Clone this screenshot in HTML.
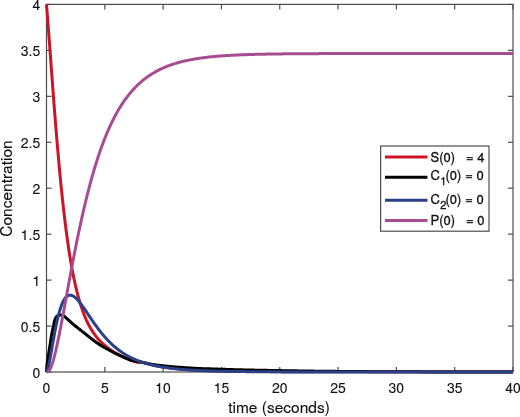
<!DOCTYPE html>
<html><head><meta charset="utf-8"><title>Concentration vs time</title>
<style>
html,body{margin:0;padding:0;background:#fff;}
body{width:520px;height:417px;overflow:hidden;}
svg{display:block;}
text{font-family:'TeX Gyre Heros', 'Liberation Sans', Arial, Helvetica, sans-serif;fill:#111;stroke:#111;stroke-width:0.12px;stroke-linejoin:round;}
text.lg{stroke-width:0.3px;}
</style></head>
<body>
<svg width="520" height="417" viewBox="0 0 520 417">
<rect width="520" height="417" fill="#fff"/>
<g stroke="#4d4d4d" stroke-width="1.2"><line x1="46.50" y1="372.0" x2="46.50" y2="367.0"/><line x1="46.50" y1="4.4" x2="46.50" y2="9.4"/><line x1="104.81" y1="372.0" x2="104.81" y2="367.0"/><line x1="104.81" y1="4.4" x2="104.81" y2="9.4"/><line x1="163.12" y1="372.0" x2="163.12" y2="367.0"/><line x1="163.12" y1="4.4" x2="163.12" y2="9.4"/><line x1="221.44" y1="372.0" x2="221.44" y2="367.0"/><line x1="221.44" y1="4.4" x2="221.44" y2="9.4"/><line x1="279.75" y1="372.0" x2="279.75" y2="367.0"/><line x1="279.75" y1="4.4" x2="279.75" y2="9.4"/><line x1="338.06" y1="372.0" x2="338.06" y2="367.0"/><line x1="338.06" y1="4.4" x2="338.06" y2="9.4"/><line x1="396.38" y1="372.0" x2="396.38" y2="367.0"/><line x1="396.38" y1="4.4" x2="396.38" y2="9.4"/><line x1="454.69" y1="372.0" x2="454.69" y2="367.0"/><line x1="454.69" y1="4.4" x2="454.69" y2="9.4"/><line x1="513.00" y1="372.0" x2="513.00" y2="367.0"/><line x1="513.00" y1="4.4" x2="513.00" y2="9.4"/><line x1="46.5" y1="372.00" x2="51.5" y2="372.00"/><line x1="513.0" y1="372.00" x2="508.0" y2="372.00"/><line x1="46.5" y1="326.06" x2="51.5" y2="326.06"/><line x1="513.0" y1="326.06" x2="508.0" y2="326.06"/><line x1="46.5" y1="280.11" x2="51.5" y2="280.11"/><line x1="513.0" y1="280.11" x2="508.0" y2="280.11"/><line x1="46.5" y1="234.16" x2="51.5" y2="234.16"/><line x1="513.0" y1="234.16" x2="508.0" y2="234.16"/><line x1="46.5" y1="188.22" x2="51.5" y2="188.22"/><line x1="513.0" y1="188.22" x2="508.0" y2="188.22"/><line x1="46.5" y1="142.28" x2="51.5" y2="142.28"/><line x1="513.0" y1="142.28" x2="508.0" y2="142.28"/><line x1="46.5" y1="96.33" x2="51.5" y2="96.33"/><line x1="513.0" y1="96.33" x2="508.0" y2="96.33"/><line x1="46.5" y1="50.38" x2="51.5" y2="50.38"/><line x1="513.0" y1="50.38" x2="508.0" y2="50.38"/><line x1="46.5" y1="4.44" x2="51.5" y2="4.44"/><line x1="513.0" y1="4.44" x2="508.0" y2="4.44"/></g>
<rect x="46.5" y="4.4" width="466.500" height="367.600" fill="none" stroke="#4d4d4d" stroke-width="1.2"/>
<path d="M46.50,4.44 L46.56,5.15 L46.62,5.87 L46.67,6.59 L46.73,7.31 L46.79,8.04 L46.85,8.76 L46.91,9.49 L46.97,10.22 L47.02,10.95 L47.08,11.69 L47.14,12.42 L47.20,13.16 L47.26,13.90 L47.32,14.65 L47.37,15.39 L47.43,16.14 L47.49,16.88 L47.55,17.63 L47.61,18.39 L47.67,19.14 L47.72,19.89 L47.78,20.65 L47.84,21.41 L47.90,22.17 L47.96,22.93 L48.02,23.69 L48.07,24.45 L48.13,25.22 L48.19,25.98 L48.25,26.75 L48.31,27.52 L48.37,28.29 L48.42,29.06 L48.48,29.83 L48.54,30.60 L48.60,31.38 L48.66,32.15 L48.72,32.93 L48.77,33.71 L48.83,34.49 L48.89,35.26 L48.95,36.04 L49.01,36.82 L49.07,37.61 L49.12,38.39 L49.18,39.17 L49.24,39.95 L49.30,40.74 L49.36,41.52 L49.42,42.31 L49.47,43.09 L49.53,43.88 L49.59,44.67 L49.65,45.45 L49.71,46.24 L49.77,47.03 L49.82,47.82 L49.88,48.60 L49.94,49.39 L50.00,50.18 L50.06,50.97 L50.12,51.76 L50.17,52.55 L50.23,53.34 L50.29,54.13 L50.35,54.92 L50.41,55.71 L50.47,56.51 L50.52,57.30 L50.58,58.09 L50.64,58.88 L50.70,59.67 L50.76,60.46 L50.82,61.25 L50.87,62.04 L50.93,62.83 L50.99,63.62 L51.05,64.41 L51.11,65.20 L51.16,65.99 L51.22,66.78 L51.28,67.57 L51.34,68.36 L51.40,69.15 L51.46,69.94 L51.51,70.72 L51.57,71.51 L51.63,72.30 L51.69,73.09 L51.75,73.87 L51.81,74.66 L51.86,75.44 L51.92,76.23 L51.98,77.01 L52.04,77.80 L52.10,78.58 L52.16,79.37 L52.21,80.15 L52.27,80.93 L52.33,81.71 L52.39,82.49 L52.45,83.27 L52.51,84.05 L52.56,84.83 L52.62,85.61 L52.68,86.39 L52.74,87.16 L52.80,87.94 L52.86,88.72 L52.91,89.49 L52.97,90.26 L53.03,91.04 L53.09,91.81 L53.15,92.58 L53.21,93.35 L53.26,94.12 L53.32,94.89 L53.38,95.66 L53.44,96.42 L53.50,97.19 L53.56,97.96 L53.61,98.72 L53.67,99.48 L53.73,100.25 L53.79,101.01 L53.85,101.77 L53.91,102.53 L53.96,103.29 L54.02,104.04 L54.08,104.80 L54.14,105.55 L54.20,106.31 L54.26,107.06 L54.31,107.81 L54.37,108.57 L54.43,109.32 L54.49,110.06 L54.55,110.81 L54.61,111.56 L54.66,112.30 L54.72,113.05 L54.78,113.79 L54.84,114.53 L54.90,115.27 L54.96,116.01 L55.01,116.75 L55.07,117.49 L55.13,118.23 L55.19,118.96 L55.25,119.69 L55.31,120.43 L55.36,121.16 L55.42,121.89 L55.48,122.61 L55.54,123.34 L55.60,124.07 L55.66,124.79 L55.71,125.52 L55.77,126.24 L55.83,126.96 L55.89,127.68 L55.95,128.40 L56.00,129.11 L56.06,129.83 L56.12,130.54 L56.18,131.25 L56.24,131.97 L56.30,132.67 L56.35,133.38 L56.41,134.09 L56.47,134.80 L56.53,135.50 L56.59,136.20 L56.65,136.90 L56.70,137.60 L56.76,138.30 L56.82,139.00 L56.88,139.70 L56.94,140.39 L57.00,141.08 L57.05,141.77 L57.11,142.46 L57.17,143.15 L57.23,143.84 L57.29,144.52 L57.35,145.21 L57.40,145.89 L57.46,146.57 L57.52,147.25 L57.58,147.93 L57.64,148.61 L57.70,149.28 L57.75,149.96 L57.81,150.63 L57.87,151.30 L57.93,151.97 L57.99,152.63 L58.05,153.30 L58.10,153.96 L58.16,154.63 L58.28,155.95 L58.40,157.26 L58.51,158.57 L58.63,159.87 L58.75,161.17 L58.86,162.46 L58.98,163.75 L59.10,165.02 L59.21,166.29 L59.33,167.56 L59.45,168.82 L59.56,170.07 L59.68,171.31 L59.80,172.55 L59.91,173.79 L60.03,175.01 L60.15,176.23 L60.26,177.45 L60.38,178.66 L60.49,179.86 L60.61,181.05 L60.73,182.24 L60.84,183.42 L60.96,184.60 L61.08,185.76 L61.19,186.93 L61.31,188.08 L61.43,189.23 L61.54,190.37 L61.66,191.51 L61.78,192.64 L61.89,193.76 L62.01,194.88 L62.13,195.99 L62.24,197.10 L62.36,198.20 L62.48,199.29 L62.59,200.37 L62.71,201.45 L62.83,202.52 L62.94,203.59 L63.06,204.65 L63.18,205.70 L63.29,206.75 L63.41,207.79 L63.53,208.83 L63.64,209.86 L63.76,210.88 L63.88,211.89 L63.99,212.90 L64.11,213.91 L64.23,214.90 L64.34,215.90 L64.46,216.88 L64.58,217.86 L64.69,218.83 L64.81,219.80 L64.93,220.76 L65.04,221.71 L65.16,222.66 L65.28,223.60 L65.39,224.54 L65.51,225.47 L65.63,226.40 L65.74,227.31 L65.86,228.23 L65.98,229.13 L66.09,230.03 L66.21,230.93 L66.33,231.82 L66.44,232.70 L66.56,233.58 L66.68,234.45 L66.79,235.32 L66.91,236.18 L67.03,237.03 L67.14,237.88 L67.26,238.72 L67.38,239.56 L67.49,240.39 L67.61,241.22 L67.73,242.04 L67.84,242.86 L67.96,243.67 L68.08,244.47 L68.19,245.27 L68.31,246.06 L68.43,246.85 L68.54,247.63 L68.66,248.41 L68.78,249.18 L68.89,249.95 L69.01,250.71 L69.13,251.47 L69.24,252.22 L69.36,252.96 L69.48,253.70 L69.59,254.44 L69.71,255.17 L69.83,255.90 L69.94,256.62 L70.06,257.33 L70.17,258.04 L70.29,258.75 L70.41,259.45 L70.52,260.14 L70.64,260.84 L70.76,261.52 L70.87,262.20 L70.99,262.88 L71.11,263.55 L71.22,264.22 L71.34,264.88 L71.46,265.54 L71.57,266.19 L71.69,266.84 L71.81,267.48 L71.92,268.12 L72.04,268.75 L72.16,269.38 L72.27,270.01 L72.39,270.63 L72.51,271.24 L72.62,271.86 L72.74,272.46 L72.86,273.07 L72.97,273.67 L73.09,274.26 L73.21,274.85 L73.32,275.44 L73.44,276.02 L73.56,276.59 L73.67,277.17 L73.79,277.74 L73.91,278.30 L74.02,278.86 L74.14,279.42 L74.26,279.97 L74.37,280.52 L74.49,281.07 L74.61,281.61 L74.72,282.14 L74.84,282.68 L74.96,283.21 L75.07,283.73 L75.19,284.25 L75.31,284.77 L75.42,285.28 L75.54,285.79 L75.66,286.30 L75.77,286.80 L75.89,287.30 L76.01,287.80 L76.12,288.29 L76.24,288.78 L76.47,289.74 L76.71,290.69 L76.94,291.63 L77.17,292.56 L77.41,293.47 L77.64,294.36 L77.87,295.25 L78.11,296.12 L78.34,296.97 L78.57,297.82 L78.81,298.65 L79.04,299.47 L79.27,300.28 L79.50,301.08 L79.74,301.86 L79.97,302.64 L80.20,303.40 L80.44,304.15 L80.67,304.89 L80.90,305.62 L81.14,306.34 L81.37,307.05 L81.60,307.75 L81.84,308.44 L82.07,309.11 L82.30,309.78 L82.54,310.44 L82.77,311.09 L83.00,311.73 L83.24,312.36 L83.47,312.98 L83.70,313.59 L83.94,314.19 L84.17,314.79 L84.40,315.38 L84.64,315.95 L84.87,316.52 L85.10,317.08 L85.34,317.64 L85.57,318.18 L85.80,318.72 L86.04,319.25 L86.27,319.77 L86.50,320.29 L86.74,320.80 L86.97,321.30 L87.20,321.79 L87.44,322.28 L87.67,322.76 L87.90,323.23 L88.14,323.70 L88.37,324.16 L88.60,324.62 L88.83,325.07 L89.18,325.73 L89.53,326.37 L89.88,327.01 L90.23,327.63 L90.58,328.24 L90.93,328.84 L91.28,329.42 L91.63,330.00 L91.98,330.56 L92.33,331.11 L92.68,331.65 L93.03,332.18 L93.38,332.70 L93.73,333.22 L94.08,333.72 L94.43,334.21 L94.78,334.69 L95.13,335.17 L95.48,335.63 L95.83,336.09 L96.18,336.54 L96.53,336.98 L96.88,337.41 L97.23,337.83 L97.58,338.25 L97.93,338.66 L98.28,339.07 L98.63,339.46 L98.98,339.85 L99.33,340.24 L99.68,340.61 L100.03,340.98 L100.38,341.35 L100.73,341.71 L101.20,342.18 L101.66,342.64 L102.13,343.09 L102.60,343.53 L103.06,343.96 L103.53,344.38 L104.00,344.80 L104.46,345.20 L104.93,345.60 L105.40,345.99 L105.86,346.38 L106.33,346.75 L106.80,347.12 L107.26,347.49 L107.73,347.84 L108.19,348.19 L108.66,348.54 L109.13,348.88 L109.59,349.21 L110.06,349.53 L110.53,349.85 L110.99,350.17 L111.46,350.48 L111.93,350.79 L112.39,351.09 L112.86,351.38 L113.33,351.67 L113.79,351.96 L114.26,352.24 L114.73,352.52 L115.19,352.79 L115.66,353.06 L116.13,353.33 L116.59,353.59 L117.06,353.85 L117.52,354.10 L117.99,354.35 L118.46,354.60 L118.92,354.84 L119.39,355.08 L119.86,355.32 L120.32,355.55 L120.79,355.79 L121.26,356.01 L121.72,356.24 L122.19,356.46 L122.66,356.68 L123.12,356.89 L123.59,357.10 L124.06,357.31 L124.52,357.52 L124.99,357.72 L125.46,357.92 L125.92,358.12 L126.39,358.32 L126.85,358.51 L127.32,358.70 L127.79,358.89 L128.25,359.08 L128.72,359.26 L129.19,359.44 L129.77,359.67 L130.35,359.89 L130.94,360.11 L131.52,360.32 L132.10,360.53 L132.69,360.73 L133.27,360.94 L133.85,361.14 L134.44,361.33 L135.02,361.53 L135.60,361.72 L136.18,361.91 L136.77,362.09 L137.35,362.27 L137.93,362.45 L138.52,362.01 L139.10,362.06 L139.68,362.11 L140.27,362.17 L140.85,362.23 L141.43,362.29 L142.02,362.35 L142.60,362.42 L143.18,362.48 L143.77,362.55 L144.35,362.69 L144.93,362.87 L145.51,363.04 L146.10,363.21 L146.68,363.38 L147.26,363.55 L147.85,363.71 L148.43,363.87 L149.01,364.02 L149.60,364.18 L150.18,364.32 L150.76,364.47 L151.35,364.61 L151.93,364.75 L152.51,364.89 L153.10,365.03 L153.68,365.16 L154.26,365.29 L154.84,365.41 L155.43,365.54 L156.01,365.66 L156.59,365.78 L157.18,365.89 L157.76,366.01 L158.34,366.12 L158.93,366.23 L159.51,366.34 L160.09,366.44 L160.68,366.54 L161.26,366.64 L161.84,366.74 L162.43,366.84 L163.01,366.94 L163.59,367.03 L164.17,367.12 L164.76,367.21 L165.34,367.30 L165.92,367.38 L166.51,367.47 L167.09,367.55 L167.67,367.63 L168.26,367.71 L168.84,367.79 L169.42,367.86 L170.01,367.94 L170.59,368.01 L171.17,368.08 L171.76,368.15 L172.34,368.22 L172.92,368.29 L173.50,368.35 L174.09,368.42 L174.67,368.48 L175.25,368.54 L175.84,368.61 L176.42,368.67 L177.00,368.72 L177.59,368.78 L178.17,368.84 L178.75,368.89 L179.34,368.95 L179.92,369.00 L180.50,369.05 L181.09,369.10 L181.67,369.15 L182.25,369.20 L182.83,369.25 L183.42,369.30 L184.00,369.34 L184.58,369.39 L185.17,369.43 L185.75,369.48 L186.33,369.52 L187.62,369.61 L188.78,369.69 L189.95,369.77 L191.12,369.84 L192.28,369.91 L193.45,369.98 L194.61,370.05 L195.78,370.11 L196.95,370.17 L198.11,370.23 L199.28,370.29 L200.44,370.34 L201.61,370.39 L202.78,370.44 L203.94,370.49 L205.11,370.54 L206.28,370.58 L207.44,370.63 L208.61,370.67 L209.78,370.71 L210.94,370.75 L212.11,370.78 L213.27,370.82 L214.44,370.85 L215.61,370.89 L216.77,370.92 L217.94,370.95 L219.10,370.98 L220.27,371.01 L221.44,371.04 L222.60,371.06 L223.77,371.09 L224.94,371.12 L226.10,371.14 L227.27,371.16 L228.44,371.18 L229.60,371.21 L230.77,371.23 L231.93,371.25 L233.10,371.27 L234.27,371.28 L235.43,371.30 L236.60,371.32 L237.76,371.34 L238.93,371.35 L240.10,371.37 L241.26,371.38 L242.43,371.40 L243.60,371.41 L244.76,371.42 L245.93,371.44 L247.09,371.45 L248.26,371.46 L249.43,371.47 L250.59,371.49 L251.76,371.50 L252.93,371.51 L254.09,371.52 L255.26,371.53 L256.42,371.54 L257.59,371.54 L258.76,371.55 L259.92,371.56 L261.09,371.57 L262.26,371.58 L263.42,371.59 L264.59,371.59 L265.75,371.60 L266.92,371.61 L268.09,371.61 L269.25,371.62 L270.42,371.63 L271.59,371.63 L272.75,371.64 L273.92,371.64 L275.09,371.65 L276.25,371.65 L277.42,371.66 L278.58,371.66 L279.75,371.67 L280.92,371.67 L282.08,371.68 L283.25,371.68 L284.41,371.69 L285.58,371.69 L286.75,371.69 L287.91,371.70 L289.08,371.70 L290.25,371.70 L291.41,371.71 L292.58,371.71 L293.75,371.71 L294.91,371.72 L296.08,371.72 L297.24,371.72 L298.41,371.72 L299.58,371.73 L300.74,371.73 L301.91,371.73 L303.07,371.73 L304.24,371.74 L305.41,371.74 L306.57,371.74 L307.74,371.74 L308.91,371.74 L310.07,371.75 L311.24,371.75 L312.40,371.75 L313.57,371.75 L314.74,371.75 L315.90,371.76 L317.07,371.76 L318.24,371.76 L319.40,371.76 L320.57,371.76 L321.74,371.76 L322.90,371.76 L324.07,371.76 L325.23,371.77 L326.40,371.77 L327.57,371.77 L328.73,371.77 L329.90,371.77 L331.06,371.77 L332.23,371.77 L333.40,371.77 L334.56,371.77 L335.73,371.78 L336.90,371.78 L338.06,371.78 L339.23,371.78 L340.40,371.78 L341.56,371.78 L342.73,371.78 L343.89,371.78 L345.06,371.78 L346.23,371.78 L347.39,371.78 L348.56,371.78 L349.72,371.78 L350.89,371.78 L352.06,371.78 L353.22,371.79 L354.39,371.79 L355.56,371.79 L356.72,371.79 L357.89,371.79 L359.06,371.79 L360.22,371.79 L361.39,371.79 L362.55,371.79 L363.72,371.79 L364.89,371.79 L366.05,371.79 L367.22,371.79 L368.38,371.79 L369.55,371.79 L370.72,371.79 L371.88,371.79 L373.05,371.79 L374.22,371.79 L375.38,371.79 L376.55,371.79 L377.72,371.79 L378.88,371.79 L380.05,371.79 L381.21,371.79 L382.38,371.79 L383.55,371.79 L384.71,371.79 L385.88,371.79 L387.04,371.79 L388.21,371.79 L389.38,371.79 L390.54,371.80 L391.71,371.80 L392.88,371.80 L394.04,371.80 L395.21,371.80 L396.38,371.80 L397.54,371.80 L398.71,371.80 L399.87,371.80 L401.04,371.80 L402.21,371.80 L403.37,371.80 L404.54,371.80 L405.70,371.80 L406.87,371.80 L408.04,371.80 L409.20,371.80 L410.37,371.80 L411.54,371.80 L412.70,371.80 L413.87,371.80 L415.04,371.80 L416.20,371.80 L417.37,371.80 L418.53,371.80 L419.70,371.80 L420.87,371.80 L422.03,371.80 L423.20,371.80 L424.37,371.80 L425.53,371.80 L426.70,371.80 L427.86,371.80 L429.03,371.80 L430.20,371.80 L431.36,371.80 L432.53,371.80 L433.69,371.80 L434.86,371.80 L436.03,371.80 L437.19,371.80 L438.36,371.80 L439.53,371.80 L440.69,371.80 L441.86,371.80 L443.02,371.80 L444.19,371.80 L445.36,371.80 L446.52,371.80 L447.69,371.80 L448.86,371.80 L450.02,371.80 L451.19,371.80 L452.35,371.80 L453.52,371.80 L454.69,371.80 L455.85,371.80 L457.02,371.80 L458.19,371.80 L459.35,371.80 L460.52,371.80 L461.69,371.80 L462.85,371.80 L464.02,371.80 L465.18,371.80 L466.35,371.80 L467.52,371.80 L468.68,371.80 L469.85,371.80 L471.02,371.80 L472.18,371.80 L473.35,371.80 L474.51,371.80 L475.68,371.80 L476.85,371.80 L478.01,371.80 L479.18,371.80 L480.35,371.80 L481.51,371.80 L482.68,371.80 L483.84,371.80 L485.01,371.80 L486.18,371.80 L487.34,371.80 L488.51,371.80 L489.68,371.80 L490.84,371.80 L492.01,371.80 L493.17,371.80 L494.34,371.80 L495.51,371.80 L496.67,371.80 L497.84,371.80 L499.00,371.80 L500.17,371.80 L501.34,371.80 L502.50,371.80 L503.67,371.80 L504.84,371.80 L506.00,371.80 L507.17,371.80 L508.33,371.80 L509.50,371.80 L510.67,371.80 L511.83,371.80 L513.00,371.80" fill="none" stroke="#cc1426" stroke-width="3" stroke-linejoin="round" stroke-linecap="butt"/>
<path d="M46.50,372.00 L46.55,371.25 L46.60,370.50 L46.65,369.75 L46.69,369.01 L46.74,368.26 L46.80,367.51 L46.85,366.76 L46.91,366.01 L46.98,365.26 L47.06,364.52 L47.15,363.77 L47.25,363.03 L47.36,362.29 L47.47,361.55 L47.58,360.80 L47.69,360.06 L47.80,359.32 L47.90,358.58 L48.01,357.83 L48.13,357.09 L48.24,356.35 L48.35,355.61 L48.46,354.87 L48.57,354.12 L48.69,353.38 L48.80,352.64 L48.92,351.90 L49.03,351.16 L49.15,350.42 L49.27,349.68 L49.39,348.94 L49.51,348.19 L49.63,347.45 L49.75,346.71 L49.87,345.97 L49.99,345.23 L50.11,344.49 L50.23,343.75 L50.35,343.01 L50.46,342.27 L50.57,341.53 L50.68,340.78 L50.79,340.04 L50.90,339.30 L51.01,338.56 L51.12,337.82 L51.24,337.07 L51.36,336.33 L51.48,335.59 L51.60,334.85 L51.74,334.11 L51.87,333.38 L52.02,332.64 L52.17,331.91 L52.33,331.17 L52.49,330.44 L52.65,329.71 L52.81,328.97 L52.98,328.24 L53.14,327.51 L53.30,326.78 L53.46,326.04 L53.62,325.31 L53.76,324.57 L53.91,323.84 L54.05,323.10 L54.20,322.37 L54.37,321.63 L54.56,320.91 L54.77,320.19 L55.02,319.48 L55.30,318.79 L55.62,318.12 L55.99,317.47 L56.42,316.86 L56.91,316.32 L57.48,315.85 L58.11,315.49 L58.80,315.25 L59.52,315.10 L60.26,315.05 L61.01,315.07 L61.74,315.16 L62.46,315.33 L63.16,315.59 L63.82,315.93 L64.43,316.34 L65.02,316.80 L65.59,317.29 L66.14,317.79 L66.69,318.31 L67.24,318.82 L67.78,319.34 L68.32,319.86 L68.86,320.38 L69.41,320.90 L69.96,321.41 L70.51,321.91 L71.07,322.41 L71.64,322.90 L72.21,323.39 L72.78,323.87 L73.36,324.35 L73.94,324.83 L74.52,325.31 L75.10,325.78 L75.68,326.25 L76.26,326.73 L76.85,327.20 L77.44,327.66 L78.02,328.13 L78.62,328.59 L79.21,329.05 L79.80,329.51 L80.40,329.97 L80.99,330.43 L81.58,330.89 L82.17,331.35 L82.76,331.81 L83.35,332.28 L83.94,332.75 L84.52,333.22 L85.11,333.69 L85.69,334.16 L86.28,334.63 L86.86,335.10 L87.45,335.56 L88.04,336.03 L88.63,336.50 L89.22,336.96 L89.80,337.43 L90.39,337.89 L90.98,338.35 L91.57,338.82 L92.17,339.28 L92.76,339.73 L93.36,340.19 L93.96,340.64 L94.56,341.09 L95.16,341.54 L95.77,341.98 L96.37,342.42 L96.98,342.87 L97.59,343.30 L98.20,343.74 L98.82,344.16 L99.44,344.58 L100.07,344.99 L100.70,345.40 L101.34,345.79 L101.98,346.17 L102.63,346.55 L103.29,346.91 L103.95,347.27 L104.61,347.62 L105.28,347.97 L105.94,348.31 L106.61,348.66 L107.27,349.01 L107.93,349.37 L108.59,349.73 L109.25,350.09 L109.90,350.46 L110.56,350.82 L111.21,351.19 L111.87,351.55 L112.53,351.91 L113.19,352.27 L113.85,352.61 L114.52,352.96 L115.19,353.30 L115.86,353.63 L116.53,353.96 L117.21,354.29 L117.89,354.61 L118.57,354.93 L119.25,355.25 L119.93,355.56 L120.61,355.87 L121.29,356.18 L121.98,356.49 L122.66,356.80 L123.35,357.11 L124.03,357.41 L124.71,357.72 L125.40,358.03 L126.09,358.33 L126.77,358.63 L127.47,358.92 L128.16,359.21 L128.86,359.48 L129.56,359.74 L130.27,359.99 L130.98,360.22 L131.70,360.43 L132.43,360.62 L133.16,360.79 L133.89,360.94 L134.63,361.07 L135.37,361.19 L136.11,361.30 L136.86,361.41 L137.60,361.51 L138.34,361.63 L139.08,361.75 L139.82,361.88 L140.56,362.02 L141.29,362.17 L142.03,362.32 L142.76,362.48 L143.49,362.65 L144.22,362.81 L144.96,362.97 L145.69,363.14 L146.42,363.30 L147.16,363.45 L147.89,363.60 L148.63,363.74 L149.37,363.88 L150.10,364.01 L150.84,364.14 L151.58,364.26 L152.32,364.38 L153.07,364.49 L153.81,364.61 L154.55,364.72 L155.29,364.82 L156.04,364.93 L156.78,365.03 L157.52,365.13 L158.27,365.22 L159.01,365.32 L159.76,365.41 L160.50,365.50 L161.25,365.58 L161.99,365.67 L162.74,365.75 L163.48,365.84 L164.23,365.92 L164.98,366.00 L165.72,366.07 L166.47,366.15 L167.22,366.22 L167.96,366.29 L168.71,366.36 L169.46,366.43 L170.20,366.50 L170.95,366.57 L171.70,366.63 L172.45,366.70 L173.19,366.76 L173.94,366.83 L174.69,366.89 L175.44,366.95 L176.18,367.01 L176.93,367.07 L177.68,367.13 L178.43,367.19 L179.18,367.24 L179.93,367.30 L180.67,367.36 L181.42,367.41 L182.17,367.47 L182.92,367.52 L183.67,367.57 L184.42,367.63 L185.16,367.68 L185.91,367.73 L186.66,367.78 L187.41,367.83 L188.16,367.88 L188.91,367.93 L189.66,367.98 L190.40,368.03 L191.15,368.07 L191.90,368.12 L192.65,368.16 L193.40,368.21 L194.15,368.25 L194.90,368.29 L195.65,368.33 L196.40,368.37 L197.15,368.41 L197.90,368.45 L198.65,368.48 L199.40,368.51 L200.15,368.54 L200.89,368.57 L201.64,368.60 L202.39,368.63 L203.14,368.65 L203.89,368.68 L204.64,368.70 L205.39,368.72 L206.14,368.74 L206.89,368.77 L207.64,368.79 L208.39,368.81 L209.14,368.83 L209.89,368.85 L210.64,368.87 L211.39,368.89 L212.14,368.91 L212.89,368.93 L213.64,368.96 L214.39,368.98 L215.14,369.01 L215.89,369.03 L216.64,369.06 L217.39,369.08 L218.14,369.11 L218.89,369.13 L219.64,369.16 L220.39,369.18 L221.14,369.21 L221.89,369.24 L222.64,369.26 L223.39,369.29 L224.14,369.31 L224.89,369.34 L225.64,369.36 L226.39,369.39 L227.14,369.41 L227.89,369.44 L228.64,369.46 L229.39,369.49 L230.14,369.51 L230.89,369.53 L231.64,369.56 L232.39,369.58 L233.14,369.60 L233.89,369.63 L234.64,369.65 L235.39,369.67 L236.14,369.69 L236.89,369.72 L237.64,369.74 L238.39,369.76 L239.14,369.78 L239.89,369.80 L240.64,369.82 L241.39,369.83 L242.14,369.85 L242.89,369.87 L243.64,369.89 L244.39,369.91 L245.14,369.93 L245.89,369.94 L246.64,369.96 L247.39,369.98 L248.14,369.99 L248.89,370.01 L249.64,370.03 L250.39,370.04 L251.15,370.06 L251.90,370.07 L252.65,370.09 L253.40,370.10 L254.15,370.12 L254.90,370.13 L255.65,370.15 L256.40,370.16 L257.15,370.18 L257.90,370.19 L258.65,370.21 L259.40,370.22 L260.15,370.23 L260.90,370.25 L261.65,370.26 L262.40,370.27 L263.15,370.29 L263.90,370.30 L264.65,370.32 L265.40,370.33 L266.15,370.34 L266.90,370.36 L267.65,370.37 L268.40,370.38 L269.15,370.40 L269.90,370.41 L270.65,370.42 L271.40,370.44 L272.15,370.45 L272.90,370.46 L273.65,370.48 L274.40,370.49 L275.15,370.50 L275.90,370.52 L276.65,370.53 L277.40,370.54 L278.15,370.56 L278.90,370.57 L279.65,370.58 L280.40,370.60 L281.15,370.61 L281.90,370.62 L282.65,370.63 L283.40,370.65 L284.15,370.66 L284.90,370.67 L285.65,370.69 L286.40,370.70 L287.16,370.71 L287.91,370.73 L288.66,370.74 L289.41,370.75 L290.16,370.76 L290.91,370.78 L291.66,370.79 L292.41,370.80 L293.16,370.81 L293.91,370.83 L294.66,370.84 L295.41,370.85 L296.16,370.86 L296.91,370.87 L297.66,370.89 L298.41,370.90 L299.16,370.91 L299.91,370.92 L300.66,370.93 L301.41,370.94 L302.16,370.96 L302.91,370.97 L303.66,370.98 L304.41,370.99 L305.16,371.00 L305.91,371.01 L306.66,371.02 L307.41,371.03 L308.16,371.04 L308.91,371.06 L309.66,371.07 L310.41,371.08 L311.16,371.09 L311.91,371.10 L312.66,371.11 L313.41,371.12 L314.16,371.13 L314.91,371.14 L315.66,371.15 L316.41,371.16 L317.17,371.16 L317.92,371.17 L318.67,371.18 L319.42,371.19 L320.17,371.20 L320.92,371.21 L321.67,371.22 L322.42,371.23 L323.17,371.24 L323.92,371.25 L324.67,371.25 L325.42,371.26 L326.17,371.27 L326.92,371.28 L327.67,371.29 L328.42,371.29 L329.17,371.30 L329.92,371.31 L330.67,371.32 L331.42,371.33 L332.17,371.33 L332.92,371.34 L333.67,371.35 L334.42,371.36 L335.17,371.36 L335.92,371.37 L336.67,371.38 L337.42,371.38 L338.17,371.39 L338.92,371.40 L339.67,371.40 L340.42,371.41 L341.17,371.42 L341.92,371.43 L342.68,371.43 L343.43,371.44 L344.18,371.44 L344.93,371.45 L345.68,371.46 L346.43,371.46 L347.18,371.47 L347.93,371.48 L348.68,371.48 L349.43,371.49 L350.18,371.49 L350.93,371.50 L351.68,371.51 L352.43,371.51 L353.18,371.52 L353.93,371.52 L354.68,371.53 L355.43,371.54 L356.18,371.54 L356.93,371.55 L357.68,371.55 L358.43,371.56 L359.18,371.56 L359.93,371.57 L360.68,371.57 L361.43,371.58 L362.18,371.58 L362.93,371.59 L363.68,371.60 L364.43,371.60 L365.18,371.61 L365.93,371.61 L366.69,371.62 L367.44,371.62 L368.19,371.63 L368.94,371.63 L369.69,371.64 L370.44,371.64 L371.19,371.65 L371.94,371.65 L372.69,371.65 L373.44,371.66 L374.19,371.66 L374.94,371.67 L375.69,371.67 L376.44,371.68 L377.19,371.68 L377.94,371.69 L378.69,371.69 L379.44,371.70 L380.19,371.70 L380.94,371.71 L381.69,371.71 L382.44,371.71 L383.19,371.72 L383.94,371.72 L384.69,371.73 L385.44,371.73 L386.19,371.73 L386.94,371.74 L387.69,371.74 L388.44,371.75 L389.19,371.75 L389.95,371.75 L390.70,371.76 L391.45,371.76 L392.20,371.77 L392.95,371.77 L393.70,371.77 L394.45,371.78 L395.20,371.78 L395.95,371.78 L396.70,371.79 L397.45,371.79 L398.20,371.79 L398.95,371.80 L399.70,371.80 L400.45,371.80 L401.20,371.81 L401.95,371.81 L402.70,371.81 L403.45,371.81 L404.20,371.82 L404.95,371.82 L405.70,371.82 L406.45,371.83 L407.20,371.83 L407.95,371.83 L408.70,371.83 L409.45,371.84 L410.20,371.84 L410.95,371.84 L411.70,371.85 L412.46,371.85 L413.21,371.85 L413.96,371.85 L414.71,371.86 L415.46,371.86 L416.21,371.86 L416.96,371.86 L417.71,371.87 L418.46,371.87 L419.21,371.87 L419.96,371.87 L420.71,371.87 L421.46,371.88 L422.21,371.88 L422.96,371.88 L423.71,371.88 L424.46,371.89 L425.21,371.89 L425.96,371.89 L426.71,371.89 L427.46,371.89 L428.21,371.90 L428.96,371.90 L429.71,371.90 L430.46,371.90 L431.21,371.90 L431.96,371.91 L432.71,371.91 L433.46,371.91 L434.21,371.91 L434.97,371.91 L435.72,371.92 L436.47,371.92 L437.22,371.92 L437.97,371.92 L438.72,371.92 L439.47,371.93 L440.22,371.93 L440.97,371.93 L441.72,371.93 L442.47,371.93 L443.22,371.93 L443.97,371.94 L444.72,371.94 L445.47,371.94 L446.22,371.94 L446.97,371.94 L447.72,371.94 L448.47,371.95 L449.22,371.95 L449.97,371.95 L450.72,371.95 L451.47,371.95 L452.22,371.95 L452.97,371.96 L453.72,371.96 L454.47,371.96 L455.22,371.96 L455.97,371.96 L456.72,371.96 L457.48,371.96 L458.23,371.97 L458.98,371.97 L459.73,371.97 L460.48,371.97 L461.23,371.97 L461.98,371.97 L462.73,371.97 L463.48,371.97 L464.23,371.97 L464.98,371.97 L465.73,371.97 L466.48,371.98 L467.23,371.98 L467.98,371.98 L468.73,371.98 L469.48,371.98 L470.23,371.98 L470.98,371.98 L471.73,371.98 L472.48,371.98 L473.23,371.98 L473.98,371.98 L474.73,371.98 L475.48,371.98 L476.23,371.98 L476.98,371.98 L477.73,371.98 L478.48,371.98 L479.23,371.99 L479.99,371.99 L480.74,371.99 L481.49,371.99 L482.24,371.99 L482.99,371.99 L483.74,371.99 L484.49,371.99 L485.24,371.99 L485.99,371.99 L486.74,371.99 L487.49,371.99 L488.24,371.99 L488.99,371.99 L489.74,371.99 L490.49,371.99 L491.24,371.99 L491.99,371.99 L492.74,371.99 L493.49,371.99 L494.24,371.99 L494.99,371.99 L495.74,371.99 L496.49,371.99 L497.24,371.99 L497.99,371.99 L498.74,371.99 L499.49,371.99 L500.24,371.99 L500.99,371.99 L501.74,371.99 L502.50,371.99 L503.25,371.99 L504.00,371.99 L504.75,371.99 L505.50,372.00 L506.25,372.00 L507.00,372.00 L507.75,372.00 L508.50,372.00 L509.25,372.00 L510.00,372.00 L510.75,372.00 L511.50,372.00 L512.25,372.00 L513.00,372.00" fill="none" stroke="#000000" stroke-width="3" stroke-linejoin="round" stroke-linecap="butt"/>
<path d="M46.50,372.00 L46.79,371.53 L47.02,371.04 L47.23,370.54 L47.40,370.05 L47.58,369.53 L47.75,368.95 L47.90,368.45 L48.05,367.91 L48.19,367.36 L48.34,366.77 L48.48,366.17 L48.60,365.67 L48.72,365.16 L48.83,364.64 L48.95,364.11 L49.07,363.56 L49.18,363.01 L49.30,362.44 L49.42,361.87 L49.53,361.29 L49.65,360.69 L49.77,360.10 L49.88,359.49 L50.00,358.88 L50.12,358.26 L50.23,357.64 L50.35,357.01 L50.47,356.37 L50.58,355.73 L50.70,355.09 L50.82,354.44 L50.93,353.79 L51.05,353.14 L51.16,352.48 L51.25,351.99 L51.34,351.50 L51.43,351.00 L51.51,350.50 L51.60,350.01 L51.69,349.51 L51.78,349.01 L51.86,348.51 L51.95,348.01 L52.04,347.51 L52.13,347.01 L52.21,346.51 L52.30,346.01 L52.39,345.51 L52.48,345.01 L52.56,344.51 L52.65,344.01 L52.74,343.52 L52.83,343.02 L52.91,342.52 L53.00,342.03 L53.09,341.53 L53.18,341.04 L53.29,340.39 L53.41,339.73 L53.53,339.08 L53.64,338.43 L53.76,337.79 L53.88,337.14 L53.99,336.50 L54.11,335.87 L54.23,335.23 L54.34,334.60 L54.46,333.97 L54.58,333.35 L54.69,332.73 L54.81,332.12 L54.93,331.51 L55.04,330.90 L55.16,330.29 L55.28,329.70 L55.39,329.10 L55.51,328.51 L55.63,327.93 L55.74,327.35 L55.86,326.77 L55.98,326.20 L56.09,325.63 L56.21,325.07 L56.33,324.51 L56.44,323.96 L56.56,323.42 L56.68,322.88 L56.79,322.34 L56.91,321.81 L57.03,321.28 L57.14,320.76 L57.26,320.25 L57.38,319.74 L57.49,319.24 L57.61,318.74 L57.73,318.25 L57.84,317.76 L57.99,317.16 L58.13,316.57 L58.28,315.98 L58.51,315.07 L58.75,314.17 L58.98,313.30 L59.21,312.45 L59.45,311.63 L59.68,310.82 L59.91,310.04 L60.15,309.29 L60.38,308.55 L60.61,307.84 L60.84,307.15 L61.08,306.48 L61.31,305.83 L61.54,305.20 L61.78,304.60 L62.01,304.02 L62.24,303.46 L62.48,302.92 L62.71,302.40 L62.94,301.90 L63.18,301.42 L63.41,300.96 L63.76,300.31 L64.11,299.70 L64.46,299.13 L64.81,298.61 L65.16,298.13 L65.51,297.69 L65.86,297.28 L66.21,296.92 L66.68,296.49 L67.14,296.12 L67.61,295.81 L68.08,295.56 L68.54,295.37 L69.13,295.21 L69.71,295.13 L70.29,295.12 L70.87,295.19 L71.46,295.32 L72.04,295.52 L72.51,295.72 L72.97,295.95 L73.44,296.22 L73.91,296.53 L74.37,296.87 L74.84,297.23 L75.31,297.62 L75.77,298.04 L76.24,298.49 L76.71,298.95 L77.06,299.32 L77.41,299.69 L77.76,300.08 L78.11,300.48 L78.46,300.88 L78.81,301.30 L79.16,301.73 L79.50,302.16 L79.85,302.60 L80.20,303.05 L80.55,303.51 L80.90,303.97 L81.25,304.44 L81.60,304.91 L81.95,305.39 L82.30,305.88 L82.65,306.37 L83.00,306.86 L83.35,307.36 L83.70,307.86 L84.05,308.37 L84.40,308.87 L84.75,309.38 L85.10,309.90 L85.45,310.41 L85.80,310.93 L86.15,311.44 L86.50,311.96 L86.85,312.48 L87.20,313.00 L87.55,313.52 L87.90,314.05 L88.25,314.57 L88.60,315.09 L88.95,315.61 L89.30,316.13 L89.65,316.65 L90.00,317.17 L90.35,317.69 L90.70,318.21 L91.05,318.72 L91.40,319.24 L91.75,319.75 L92.10,320.26 L92.45,320.77 L92.80,321.28 L93.15,321.78 L93.50,322.29 L93.85,322.79 L94.20,323.28 L94.55,323.78 L94.90,324.27 L95.25,324.77 L95.60,325.25 L95.95,325.74 L96.30,326.22 L96.65,326.70 L97.00,327.18 L97.35,327.65 L97.70,328.12 L98.05,328.59 L98.40,329.05 L98.75,329.51 L99.10,329.97 L99.45,330.43 L99.80,330.88 L100.15,331.32 L100.50,331.77 L100.85,332.21 L101.20,332.65 L101.55,333.08 L101.90,333.51 L102.25,333.94 L102.60,334.36 L102.95,334.78 L103.30,335.19 L103.65,335.61 L104.00,336.02 L104.35,336.42 L104.70,336.82 L105.05,337.22 L105.40,337.61 L105.75,338.00 L106.10,338.39 L106.45,338.77 L106.80,339.15 L107.15,339.53 L107.49,339.90 L107.84,340.27 L108.19,340.64 L108.54,341.00 L108.89,341.35 L109.36,341.83 L109.83,342.29 L110.29,342.75 L110.76,343.20 L111.23,343.65 L111.69,344.09 L112.16,344.53 L112.63,344.95 L113.09,345.38 L113.56,345.79 L114.03,346.20 L114.49,346.61 L114.96,347.01 L115.43,347.40 L115.89,347.79 L116.36,348.17 L116.82,348.54 L117.29,348.91 L117.76,349.28 L118.22,349.64 L118.69,349.99 L119.16,350.34 L119.62,350.68 L120.09,351.02 L120.56,351.35 L121.02,351.68 L121.49,352.00 L121.96,352.32 L122.42,352.64 L122.89,352.94 L123.36,353.25 L123.82,353.55 L124.29,353.84 L124.76,354.13 L125.22,354.41 L125.69,354.69 L126.15,354.97 L126.62,355.24 L127.09,355.51 L127.55,355.77 L128.02,356.03 L128.49,356.29 L128.95,356.54 L129.42,356.78 L129.89,357.03 L130.35,357.27 L130.82,357.50 L131.29,357.73 L131.75,357.96 L132.22,358.18 L132.69,358.40 L133.15,358.62 L133.62,358.83 L134.09,359.04 L134.55,359.25 L135.02,359.45 L135.48,359.65 L135.95,359.85 L136.42,360.04 L136.88,360.23 L137.35,360.42 L137.82,360.60 L138.28,360.79 L138.87,361.01 L139.45,361.23 L140.03,361.44 L140.62,361.65 L141.20,361.85 L141.78,362.05 L142.37,362.25 L142.95,362.44 L143.53,362.63 L144.12,362.81 L144.70,363.00 L145.28,363.17 L145.86,363.35 L146.45,363.52 L147.03,363.68 L147.61,363.85 L148.20,364.01 L148.78,364.16 L149.36,364.32 L149.95,364.47 L150.53,364.61 L151.11,364.76 L151.70,364.90 L152.28,365.04 L152.86,365.17 L153.45,365.30 L154.03,365.43 L154.61,365.56 L155.19,365.69 L155.78,365.81 L156.36,365.93 L156.94,366.05 L157.53,366.16 L158.11,366.27 L158.69,366.38 L159.28,366.49 L159.86,366.60 L160.44,366.70 L161.03,366.80 L161.61,366.90 L162.19,367.00 L162.78,367.10 L163.36,367.19 L163.94,367.28 L164.52,367.37 L165.11,367.46 L165.69,367.55 L166.27,367.63 L166.86,367.72 L167.44,367.80 L168.02,367.88 L168.61,367.96 L169.19,368.03 L169.77,368.11 L170.36,368.18 L170.94,368.25 L171.52,368.32 L172.11,368.39 L172.69,368.46 L173.27,368.53 L173.85,368.59 L174.44,368.66 L175.02,368.72 L175.60,368.78 L176.19,368.84 L176.77,368.90 L177.35,368.96 L177.94,369.02 L178.52,369.07 L179.10,369.13 L179.69,369.18 L180.27,369.23 L180.85,369.28 L181.44,369.33 L182.02,369.38 L182.60,369.43 L183.18,369.48 L183.77,369.53 L184.35,369.57 L184.93,369.62 L185.52,369.66 L186.10,369.70 L187.62,369.81 L188.78,369.89 L189.95,369.97 L191.12,370.04 L192.28,370.11 L193.45,370.18 L194.61,370.25 L195.78,370.31 L196.95,370.37 L198.11,370.43 L199.28,370.49 L200.44,370.54 L201.61,370.59 L202.78,370.64 L203.94,370.69 L205.11,370.74 L206.28,370.78 L207.44,370.83 L208.61,370.87 L209.78,370.91 L210.94,370.95 L212.11,370.98 L213.27,371.02 L214.44,371.05 L215.61,371.09 L216.77,371.12 L217.94,371.15 L219.10,371.18 L220.27,371.21 L221.44,371.24 L222.60,371.26 L223.77,371.29 L224.94,371.32 L226.10,371.34 L227.27,371.36 L228.44,371.38 L229.60,371.41 L230.77,371.43 L231.93,371.45 L233.10,371.47 L234.27,371.48 L235.43,371.50 L236.60,371.52 L237.76,371.54 L238.93,371.55 L240.10,371.57 L241.26,371.58 L242.43,371.60 L243.60,371.61 L244.76,371.62 L245.93,371.64 L247.09,371.65 L248.26,371.66 L249.43,371.67 L250.59,371.69 L251.76,371.70 L252.93,371.71 L254.09,371.72 L255.26,371.73 L256.42,371.74 L257.59,371.74 L258.76,371.75 L259.92,371.76 L261.09,371.77 L262.26,371.78 L263.42,371.79 L264.59,371.79 L265.75,371.80 L266.92,371.81 L268.09,371.81 L269.25,371.82 L270.42,371.83 L271.59,371.83 L272.75,371.84 L273.92,371.84 L275.09,371.85 L276.25,371.85 L277.42,371.86 L278.58,371.86 L279.75,371.87 L280.92,371.87 L282.08,371.88 L283.25,371.88 L284.41,371.89 L285.58,371.89 L286.75,371.89 L287.91,371.90 L289.08,371.90 L290.25,371.90 L291.41,371.91 L292.58,371.91 L293.75,371.91 L294.91,371.92 L296.08,371.92 L297.24,371.92 L298.41,371.92 L299.58,371.93 L300.74,371.93 L301.91,371.93 L303.07,371.93 L304.24,371.94 L305.41,371.94 L306.57,371.94 L307.74,371.94 L308.91,371.94 L310.07,371.95 L311.24,371.95 L312.40,371.95 L313.57,371.95 L314.74,371.95 L315.90,371.96 L317.07,371.96 L318.24,371.96 L319.40,371.96 L320.57,371.96 L321.74,371.96 L322.90,371.96 L324.07,371.96 L325.23,371.97 L326.40,371.97 L327.57,371.97 L328.73,371.97 L329.90,371.97 L331.06,371.97 L332.23,371.97 L333.40,371.97 L334.56,371.97 L335.73,371.98 L336.90,371.98 L338.06,371.98 L339.23,371.98 L340.40,371.98 L341.56,371.98 L342.73,371.98 L343.89,371.98 L345.06,371.98 L346.23,371.98 L347.39,371.98 L348.56,371.98 L349.72,371.98 L350.89,371.98 L352.06,371.98 L353.22,371.99 L354.39,371.99 L355.56,371.99 L356.72,371.99 L357.89,371.99 L359.06,371.99 L360.22,371.99 L361.39,371.99 L362.55,371.99 L363.72,371.99 L364.89,371.99 L366.05,371.99 L367.22,371.99 L368.38,371.99 L369.55,371.99 L370.72,371.99 L371.88,371.99 L373.05,371.99 L374.22,371.99 L375.38,371.99 L376.55,371.99 L377.72,371.99 L378.88,371.99 L380.05,371.99 L381.21,371.99 L382.38,371.99 L383.55,371.99 L384.71,371.99 L385.88,371.99 L387.04,371.99 L388.21,371.99 L389.38,371.99 L390.54,372.00 L391.71,372.00 L392.88,372.00 L394.04,372.00 L395.21,372.00 L396.38,372.00 L397.54,372.00 L398.71,372.00 L399.87,372.00 L401.04,372.00 L402.21,372.00 L403.37,372.00 L404.54,372.00 L405.70,372.00 L406.87,372.00 L408.04,372.00 L409.20,372.00 L410.37,372.00 L411.54,372.00 L412.70,372.00 L413.87,372.00 L415.04,372.00 L416.20,372.00 L417.37,372.00 L418.53,372.00 L419.70,372.00 L420.87,372.00 L422.03,372.00 L423.20,372.00 L424.37,372.00 L425.53,372.00 L426.70,372.00 L427.86,372.00 L429.03,372.00 L430.20,372.00 L431.36,372.00 L432.53,372.00 L433.69,372.00 L434.86,372.00 L436.03,372.00 L437.19,372.00 L438.36,372.00 L439.53,372.00 L440.69,372.00 L441.86,372.00 L443.02,372.00 L444.19,372.00 L445.36,372.00 L446.52,372.00 L447.69,372.00 L448.86,372.00 L450.02,372.00 L451.19,372.00 L452.35,372.00 L453.52,372.00 L454.69,372.00 L455.85,372.00 L457.02,372.00 L458.19,372.00 L459.35,372.00 L460.52,372.00 L461.69,372.00 L462.85,372.00 L464.02,372.00 L465.18,372.00 L466.35,372.00 L467.52,372.00 L468.68,372.00 L469.85,372.00 L471.02,372.00 L472.18,372.00 L473.35,372.00 L474.51,372.00 L475.68,372.00 L476.85,372.00 L478.01,372.00 L479.18,372.00 L480.35,372.00 L481.51,372.00 L482.68,372.00 L483.84,372.00 L485.01,372.00 L486.18,372.00 L487.34,372.00 L488.51,372.00 L489.68,372.00 L490.84,372.00 L492.01,372.00 L493.17,372.00 L494.34,372.00 L495.51,372.00 L496.67,372.00 L497.84,372.00 L499.00,372.00 L500.17,372.00 L501.34,372.00 L502.50,372.00 L503.67,372.00 L504.84,372.00 L506.00,372.00 L507.17,372.00 L508.33,372.00 L509.50,372.00 L510.67,372.00 L511.83,372.00 L513.00,372.00" fill="none" stroke="#2a4088" stroke-width="3" stroke-linejoin="round" stroke-linecap="butt"/>
<path d="M46.50,372.00 L47.02,371.98 L47.52,371.88 L47.99,371.66 L48.40,371.36 L48.77,371.00 L49.12,370.58 L49.42,370.17 L49.71,369.71 L49.97,369.25 L50.23,368.75 L50.47,368.27 L50.70,367.77 L50.90,367.30 L51.11,366.81 L51.31,366.29 L51.51,365.76 L51.69,365.29 L51.86,364.80 L52.04,364.30 L52.21,363.78 L52.39,363.25 L52.56,362.71 L52.74,362.15 L52.91,361.58 L53.06,361.09 L53.21,360.60 L53.35,360.10 L53.50,359.59 L53.64,359.07 L53.79,358.54 L53.93,358.01 L54.08,357.46 L54.23,356.92 L54.37,356.36 L54.52,355.79 L54.66,355.22 L54.81,354.65 L54.96,354.06 L55.10,353.47 L55.25,352.87 L55.39,352.27 L55.51,351.78 L55.63,351.29 L55.74,350.79 L55.86,350.29 L55.98,349.79 L56.09,349.29 L56.21,348.78 L56.33,348.26 L56.44,347.75 L56.56,347.23 L56.68,346.70 L56.79,346.18 L56.91,345.65 L57.03,345.11 L57.14,344.58 L57.26,344.04 L57.38,343.50 L57.49,342.95 L57.61,342.40 L57.73,341.85 L57.84,341.30 L57.96,340.74 L58.08,340.19 L58.28,339.20 L58.40,338.64 L58.51,338.07 L58.63,337.50 L58.75,336.93 L58.86,336.35 L58.98,335.78 L59.10,335.20 L59.21,334.62 L59.33,334.03 L59.45,333.45 L59.56,332.86 L59.68,332.27 L59.80,331.68 L59.91,331.09 L60.03,330.49 L60.15,329.90 L60.26,329.30 L60.38,328.70 L60.49,328.10 L60.61,327.50 L60.73,326.89 L60.84,326.29 L60.96,325.68 L61.08,325.07 L61.19,324.46 L61.31,323.85 L61.43,323.24 L61.54,322.63 L61.66,322.01 L61.78,321.40 L61.89,320.78 L62.01,320.16 L62.13,319.54 L62.24,318.92 L62.36,318.30 L62.48,317.68 L62.59,317.05 L62.71,316.43 L62.83,315.81 L62.94,315.18 L63.06,314.55 L63.18,313.93 L63.29,313.30 L63.41,312.67 L63.53,312.04 L63.64,311.41 L63.76,310.78 L63.88,310.15 L63.99,309.52 L64.11,308.89 L64.23,308.25 L64.34,307.62 L64.46,306.99 L64.58,306.35 L64.69,305.72 L64.81,305.09 L64.93,304.45 L65.04,303.82 L65.16,303.18 L65.28,302.54 L65.39,301.91 L65.51,301.27 L65.63,300.64 L65.74,300.00 L65.86,299.36 L65.98,298.73 L66.09,298.09 L66.21,297.45 L66.33,296.82 L66.44,296.18 L66.56,295.54 L66.68,294.91 L66.79,294.27 L66.91,293.64 L67.03,293.00 L67.14,292.36 L67.26,291.73 L67.38,291.09 L67.49,290.46 L67.61,289.82 L67.73,289.18 L67.84,288.55 L67.96,287.92 L68.08,287.28 L68.19,286.65 L68.31,286.01 L68.43,285.38 L68.54,284.75 L68.66,284.11 L68.78,283.48 L68.89,282.85 L69.01,282.22 L69.13,281.59 L69.24,280.96 L69.36,280.33 L69.48,279.70 L69.59,279.07 L69.71,278.44 L69.83,277.81 L69.94,277.18 L70.06,276.56 L70.17,275.93 L70.29,275.30 L70.41,274.68 L70.52,274.05 L70.64,273.43 L70.76,272.81 L70.87,272.18 L70.99,271.56 L71.11,270.94 L71.22,270.32 L71.34,269.70 L71.46,269.08 L71.57,268.46 L71.69,267.85 L71.81,267.23 L71.92,266.61 L72.04,266.00 L72.16,265.38 L72.27,264.77 L72.39,264.16 L72.51,263.54 L72.62,262.93 L72.74,262.32 L72.86,261.71 L72.97,261.10 L73.09,260.50 L73.21,259.89 L73.32,259.28 L73.44,258.68 L73.56,258.07 L73.67,257.47 L73.79,256.87 L73.91,256.27 L74.02,255.66 L74.14,255.06 L74.26,254.47 L74.37,253.87 L74.49,253.27 L74.61,252.68 L74.72,252.08 L74.84,251.49 L74.96,250.89 L75.07,250.30 L75.19,249.71 L75.31,249.12 L75.42,248.53 L75.54,247.95 L75.66,247.36 L75.77,246.77 L75.89,246.19 L76.01,245.61 L76.12,245.02 L76.24,244.44 L76.36,243.86 L76.47,243.28 L76.59,242.71 L76.71,242.13 L76.82,241.55 L76.94,240.98 L77.06,240.40 L77.17,239.83 L77.29,239.26 L77.41,238.69 L77.52,238.12 L77.64,237.55 L77.76,236.99 L77.87,236.42 L77.99,235.86 L78.11,235.29 L78.22,234.73 L78.34,234.17 L78.46,233.61 L78.57,233.05 L78.69,232.50 L78.81,231.94 L78.92,231.38 L79.04,230.83 L79.16,230.28 L79.27,229.73 L79.39,229.18 L79.50,228.63 L79.62,228.08 L79.74,227.53 L79.85,226.99 L79.97,226.44 L80.09,225.90 L80.20,225.36 L80.32,224.82 L80.44,224.28 L80.55,223.74 L80.67,223.20 L80.79,222.67 L80.90,222.13 L81.02,221.60 L81.14,221.07 L81.25,220.54 L81.37,220.01 L81.49,219.48 L81.60,218.95 L81.72,218.43 L81.84,217.90 L81.95,217.38 L82.07,216.86 L82.19,216.34 L82.30,215.82 L82.42,215.30 L82.54,214.78 L82.65,214.27 L82.77,213.75 L82.89,213.24 L83.00,212.73 L83.12,212.22 L83.24,211.71 L83.35,211.20 L83.47,210.69 L83.59,210.19 L83.70,209.68 L83.82,209.18 L83.94,208.68 L84.05,208.18 L84.17,207.68 L84.29,207.18 L84.40,206.68 L84.52,206.19 L84.64,205.69 L84.75,205.20 L84.87,204.71 L84.99,204.22 L85.10,203.73 L85.22,203.24 L85.34,202.76 L85.57,201.79 L85.80,200.82 L86.04,199.87 L86.27,198.91 L86.50,197.96 L86.74,197.02 L86.97,196.08 L87.20,195.15 L87.44,194.22 L87.67,193.30 L87.90,192.38 L88.14,191.46 L88.37,190.56 L88.60,189.65 L88.83,188.76 L89.07,187.86 L89.30,186.97 L89.53,186.09 L89.77,185.21 L90.00,184.34 L90.23,183.47 L90.47,182.61 L90.70,181.75 L90.93,180.90 L91.17,180.05 L91.40,179.21 L91.63,178.37 L91.87,177.53 L92.10,176.70 L92.33,175.88 L92.57,175.06 L92.80,174.25 L93.03,173.44 L93.27,172.63 L93.50,171.83 L93.73,171.04 L93.97,170.25 L94.20,169.46 L94.43,168.68 L94.67,167.91 L94.90,167.13 L95.13,166.37 L95.37,165.60 L95.60,164.85 L95.83,164.09 L96.07,163.35 L96.30,162.60 L96.53,161.86 L96.77,161.13 L97.00,160.40 L97.23,159.67 L97.47,158.95 L97.70,158.23 L97.93,157.52 L98.16,156.81 L98.40,156.11 L98.63,155.41 L98.86,154.72 L99.10,154.03 L99.33,153.34 L99.56,152.66 L99.80,151.98 L100.03,151.31 L100.26,150.64 L100.50,149.98 L100.73,149.32 L100.96,148.66 L101.20,148.01 L101.43,147.36 L101.66,146.72 L101.90,146.08 L102.13,145.44 L102.36,144.81 L102.60,144.18 L102.83,143.56 L103.06,142.94 L103.30,142.32 L103.53,141.71 L103.76,141.11 L104.00,140.50 L104.23,139.90 L104.46,139.31 L104.70,138.71 L104.93,138.13 L105.16,137.54 L105.40,136.96 L105.63,136.39 L105.86,135.81 L106.10,135.24 L106.33,134.68 L106.56,134.12 L106.80,133.56 L107.03,133.00 L107.26,132.45 L107.49,131.91 L107.73,131.36 L107.96,130.82 L108.19,130.29 L108.43,129.76 L108.66,129.23 L108.89,128.70 L109.13,128.18 L109.36,127.66 L109.59,127.14 L109.83,126.63 L110.06,126.12 L110.29,125.62 L110.53,125.12 L110.76,124.62 L110.99,124.12 L111.23,123.63 L111.46,123.14 L111.69,122.66 L111.93,122.18 L112.16,121.70 L112.39,121.22 L112.63,120.75 L112.86,120.28 L113.09,119.82 L113.33,119.35 L113.56,118.89 L113.79,118.44 L114.03,117.98 L114.26,117.53 L114.49,117.09 L114.73,116.64 L115.08,115.98 L115.43,115.33 L115.78,114.68 L116.13,114.04 L116.47,113.40 L116.82,112.78 L117.17,112.15 L117.52,111.54 L117.87,110.93 L118.22,110.33 L118.57,109.73 L118.92,109.14 L119.27,108.55 L119.62,107.98 L119.97,107.40 L120.32,106.84 L120.67,106.28 L121.02,105.72 L121.37,105.17 L121.72,104.63 L122.07,104.09 L122.42,103.56 L122.77,103.03 L123.12,102.51 L123.47,101.99 L123.82,101.48 L124.17,100.98 L124.52,100.48 L124.87,99.98 L125.22,99.49 L125.57,99.01 L125.92,98.53 L126.27,98.05 L126.62,97.58 L126.97,97.11 L127.32,96.65 L127.67,96.20 L128.02,95.75 L128.37,95.30 L128.72,94.86 L129.07,94.42 L129.42,93.99 L129.77,93.56 L130.12,93.14 L130.47,92.72 L130.82,92.31 L131.17,91.90 L131.52,91.49 L131.87,91.09 L132.22,90.69 L132.57,90.30 L132.92,89.91 L133.27,89.52 L133.62,89.14 L133.97,88.76 L134.32,88.39 L134.67,88.02 L135.02,87.65 L135.37,87.29 L135.72,86.94 L136.18,86.46 L136.65,86.00 L137.12,85.54 L137.58,85.09 L138.05,84.64 L138.52,84.20 L138.98,83.77 L139.45,83.34 L139.92,82.92 L140.38,82.51 L140.85,82.10 L141.32,81.69 L141.78,81.30 L142.25,80.90 L142.72,80.52 L143.18,80.13 L143.65,79.76 L144.12,79.39 L144.58,79.02 L145.05,78.66 L145.51,78.31 L145.98,77.96 L146.45,77.61 L146.91,77.27 L147.38,76.93 L147.85,76.60 L148.31,76.28 L148.78,75.95 L149.25,75.64 L149.71,75.32 L150.18,75.01 L150.65,74.71 L151.11,74.41 L151.58,74.11 L152.05,73.82 L152.51,73.54 L152.98,73.25 L153.45,72.97 L153.91,72.70 L154.38,72.43 L154.84,72.16 L155.31,71.89 L155.78,71.63 L156.24,71.38 L156.71,71.12 L157.18,70.87 L157.64,70.63 L158.11,70.39 L158.58,70.15 L159.04,69.91 L159.51,69.68 L159.98,69.45 L160.44,69.22 L160.91,69.00 L161.38,68.78 L161.84,68.57 L162.31,68.35 L162.78,68.14 L163.24,67.93 L163.71,67.73 L164.17,67.53 L164.64,67.33 L165.11,67.13 L165.57,66.94 L166.04,66.75 L166.51,66.56 L166.97,66.38 L167.44,66.20 L168.02,65.97 L168.61,65.75 L169.19,65.53 L169.77,65.32 L170.36,65.11 L170.94,64.91 L171.52,64.71 L172.11,64.51 L172.69,64.31 L173.27,64.12 L173.85,63.93 L174.44,63.75 L175.02,63.57 L175.60,63.39 L176.19,63.22 L176.77,63.04 L177.35,62.88 L177.94,62.71 L178.52,62.55 L179.10,62.39 L179.69,62.23 L180.27,62.07 L180.85,61.92 L181.44,61.77 L182.02,61.63 L182.60,61.48 L183.18,61.34 L183.77,61.20 L184.35,61.07 L184.93,60.93 L185.52,60.80 L186.10,60.67 L187.62,60.35 L188.78,60.11 L189.95,59.88 L191.12,59.65 L192.28,59.44 L193.45,59.23 L194.61,59.03 L195.78,58.83 L196.95,58.65 L198.11,58.47 L199.28,58.29 L200.44,58.12 L201.61,57.96 L202.78,57.81 L203.94,57.65 L205.11,57.51 L206.28,57.37 L207.44,57.23 L208.61,57.10 L209.78,56.98 L210.94,56.85 L212.11,56.74 L213.27,56.62 L214.44,56.51 L215.61,56.41 L216.77,56.31 L217.94,56.21 L219.10,56.11 L220.27,56.02 L221.44,55.93 L222.60,55.85 L223.77,55.76 L224.94,55.69 L226.10,55.61 L227.27,55.53 L228.44,55.46 L229.60,55.39 L230.77,55.33 L231.93,55.26 L233.10,55.20 L234.27,55.14 L235.43,55.08 L236.60,55.03 L237.76,54.98 L238.93,54.92 L240.10,54.87 L241.26,54.83 L242.43,54.78 L243.60,54.73 L244.76,54.69 L245.93,54.65 L247.09,54.61 L248.26,54.57 L249.43,54.53 L250.59,54.50 L251.76,54.46 L252.93,54.43 L254.09,54.39 L255.26,54.36 L256.42,54.33 L257.59,54.30 L258.76,54.28 L259.92,54.25 L261.09,54.22 L262.26,54.20 L263.42,54.17 L264.59,54.15 L265.75,54.13 L266.92,54.10 L268.09,54.08 L269.25,54.06 L270.42,54.04 L271.59,54.02 L272.75,54.01 L273.92,53.99 L275.09,53.97 L276.25,53.95 L277.42,53.94 L278.58,53.92 L279.75,53.91 L280.92,53.89 L282.08,53.88 L283.25,53.87 L284.41,53.85 L285.58,53.84 L286.75,53.83 L287.91,53.82 L289.08,53.81 L290.25,53.80 L291.41,53.79 L292.58,53.78 L293.75,53.77 L294.91,53.76 L296.08,53.75 L297.24,53.74 L298.41,53.73 L299.58,53.72 L300.74,53.71 L301.91,53.71 L303.07,53.70 L304.24,53.69 L305.41,53.69 L306.57,53.68 L307.74,53.67 L308.91,53.67 L310.07,53.66 L311.24,53.66 L312.40,53.65 L313.57,53.64 L314.74,53.64 L315.90,53.63 L317.07,53.63 L318.24,53.63 L319.40,53.62 L320.57,53.62 L321.74,53.61 L322.90,53.61 L324.07,53.60 L325.23,53.60 L326.40,53.60 L327.57,53.59 L328.73,53.59 L329.90,53.59 L331.06,53.58 L332.23,53.58 L333.40,53.58 L334.56,53.58 L335.73,53.57 L336.90,53.57 L338.06,53.57 L339.23,53.57 L340.40,53.56 L341.56,53.56 L342.73,53.56 L343.89,53.56 L345.06,53.55 L346.23,53.55 L347.39,53.55 L348.56,53.55 L349.72,53.55 L350.89,53.55 L352.06,53.54 L353.22,53.54 L354.39,53.54 L355.56,53.54 L356.72,53.54 L357.89,53.54 L359.06,53.54 L360.22,53.53 L361.39,53.53 L362.55,53.53 L363.72,53.53 L364.89,53.53 L366.05,53.53 L367.22,53.53 L368.38,53.53 L369.55,53.53 L370.72,53.52 L371.88,53.52 L373.05,53.52 L374.22,53.52 L375.38,53.52 L376.55,53.52 L377.72,53.52 L378.88,53.52 L380.05,53.52 L381.21,53.52 L382.38,53.52 L383.55,53.52 L384.71,53.52 L385.88,53.52 L387.04,53.51 L388.21,53.51 L389.38,53.51 L390.54,53.51 L391.71,53.51 L392.88,53.51 L394.04,53.51 L395.21,53.51 L396.38,53.51 L397.54,53.51 L398.71,53.51 L399.87,53.51 L401.04,53.51 L402.21,53.51 L403.37,53.51 L404.54,53.51 L405.70,53.51 L406.87,53.51 L408.04,53.51 L409.20,53.51 L410.37,53.51 L411.54,53.51 L412.70,53.51 L413.87,53.51 L415.04,53.51 L416.20,53.51 L417.37,53.51 L418.53,53.51 L419.70,53.50 L420.87,53.50 L422.03,53.50 L423.20,53.50 L424.37,53.50 L425.53,53.50 L426.70,53.50 L427.86,53.50 L429.03,53.50 L430.20,53.50 L431.36,53.50 L432.53,53.50 L433.69,53.50 L434.86,53.50 L436.03,53.50 L437.19,53.50 L438.36,53.50 L439.53,53.50 L440.69,53.50 L441.86,53.50 L443.02,53.50 L444.19,53.50 L445.36,53.50 L446.52,53.50 L447.69,53.50 L448.86,53.50 L450.02,53.50 L451.19,53.50 L452.35,53.50 L453.52,53.50 L454.69,53.50 L455.85,53.50 L457.02,53.50 L458.19,53.50 L459.35,53.50 L460.52,53.50 L461.69,53.50 L462.85,53.50 L464.02,53.50 L465.18,53.50 L466.35,53.50 L467.52,53.50 L468.68,53.50 L469.85,53.50 L471.02,53.50 L472.18,53.50 L473.35,53.50 L474.51,53.50 L475.68,53.50 L476.85,53.50 L478.01,53.50 L479.18,53.50 L480.35,53.50 L481.51,53.50 L482.68,53.50 L483.84,53.50 L485.01,53.50 L486.18,53.50 L487.34,53.50 L488.51,53.50 L489.68,53.50 L490.84,53.50 L492.01,53.50 L493.17,53.50 L494.34,53.50 L495.51,53.50 L496.67,53.50 L497.84,53.50 L499.00,53.50 L500.17,53.50 L501.34,53.50 L502.50,53.50 L503.67,53.50 L504.84,53.50 L506.00,53.50 L507.17,53.50 L508.33,53.50 L509.50,53.50 L510.67,53.50 L511.83,53.50 L513.00,53.50" fill="none" stroke="#a84c92" stroke-width="3" stroke-linejoin="round" stroke-linecap="butt"/>
<text x="40.2" y="377.80" text-anchor="end" font-size="14">0</text>
<text x="40.2" y="331.86" text-anchor="end" font-size="14">0.5</text>
<text x="40.2" y="285.91" text-anchor="end" font-size="14">1</text>
<text x="40.2" y="239.97" text-anchor="end" font-size="14">1.5</text>
<text x="40.2" y="194.02" text-anchor="end" font-size="14">2</text>
<text x="40.2" y="148.08" text-anchor="end" font-size="14">2.5</text>
<text x="40.2" y="102.13" text-anchor="end" font-size="14">3</text>
<text x="40.2" y="56.18" text-anchor="end" font-size="14">3.5</text>
<text x="40.2" y="10.24" text-anchor="end" font-size="14">4</text>
<text x="46.50" y="393.2" text-anchor="middle" font-size="14">0</text>
<text x="104.81" y="393.2" text-anchor="middle" font-size="14">5</text>
<text x="163.12" y="393.2" text-anchor="middle" font-size="14">10</text>
<text x="221.44" y="393.2" text-anchor="middle" font-size="14">15</text>
<text x="279.75" y="393.2" text-anchor="middle" font-size="14">20</text>
<text x="338.06" y="393.2" text-anchor="middle" font-size="14">25</text>
<text x="396.38" y="393.2" text-anchor="middle" font-size="14">30</text>
<text x="454.69" y="393.2" text-anchor="middle" font-size="14">35</text>
<text x="513.00" y="393.2" text-anchor="middle" font-size="14">40</text>
<text x="279" y="413.4" text-anchor="middle" font-size="15.5">time (seconds)</text>
<text transform="translate(12.2,188.5) rotate(-90)" text-anchor="middle" font-size="15.5">Concentration</text>
<rect x="380.6" y="146.0" width="108.40" height="85.20" fill="#fff" stroke="#4d4d4d" stroke-width="1.2"/>
<line x1="385" y1="157.0" x2="427.5" y2="157.0" stroke="#cc1426" stroke-width="3"/>
<line x1="385" y1="177.2" x2="427.5" y2="177.2" stroke="#000000" stroke-width="3"/>
<line x1="385" y1="200.2" x2="427.5" y2="200.2" stroke="#2a4088" stroke-width="3"/>
<line x1="385" y1="220.6" x2="427.5" y2="220.6" stroke="#a84c92" stroke-width="3"/>
<text class="lg" x="430.6" y="162.3" font-size="13" text-anchor="start">S(0)</text>
<text class="lg" x="466.0" y="162.3" font-size="13" text-anchor="start">= 4</text>
<text class="lg" x="430.6" y="179.8" font-size="13" text-anchor="start">C</text>
<text class="lg" x="440.2" y="185.4" font-size="11" text-anchor="start">1</text>
<text class="lg" x="445.4" y="179.8" font-size="13" text-anchor="start">(0)</text>
<text class="lg" x="465.2" y="179.8" font-size="13" text-anchor="start">= 0</text>
<text class="lg" x="430.6" y="204.0" font-size="13" text-anchor="start">C</text>
<text class="lg" x="440.2" y="209.3" font-size="11" text-anchor="start">2</text>
<text class="lg" x="445.4" y="204.0" font-size="13" text-anchor="start">(0)</text>
<text class="lg" x="465.2" y="204.0" font-size="13" text-anchor="start">= 0</text>
<text class="lg" x="430.6" y="225.4" font-size="13" text-anchor="start">P(0)</text>
<text class="lg" x="466.0" y="225.4" font-size="13" text-anchor="start">= 0</text>
</svg>
</body></html>
